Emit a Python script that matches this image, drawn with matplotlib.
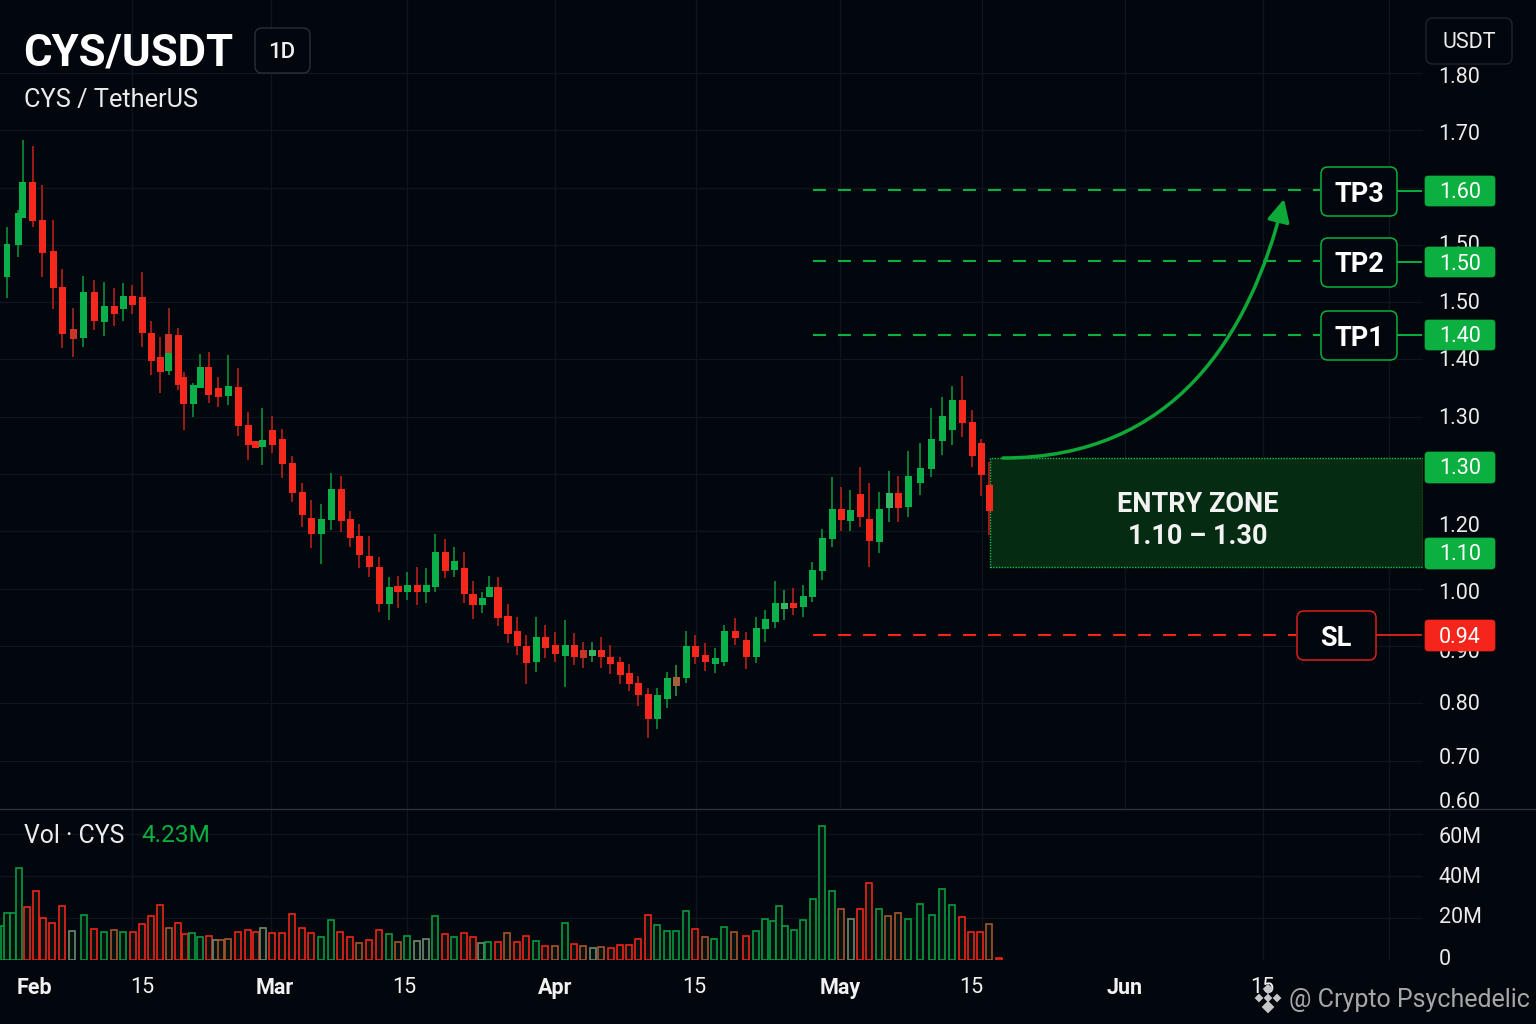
import matplotlib
matplotlib.use("Agg")
import matplotlib.pyplot as plt
from matplotlib.patches import FancyBboxPatch, FancyArrowPatch, Rectangle
from matplotlib.path import Path

plt.rcParams["font.family"] = ["Roboto", "DejaVu Sans"]

# Candles: x in chart days, one day = 10 px on this canvas
candle_days = [
    0.7, 1.8, 2.3, 3.3, 4.2, 5.3, 6.2, 7.3, 8.3, 9.4,
    10.4, 11.4, 12.3, 13.2, 14.2, 15.1, 16.0, 16.9, 16.9, 17.8,
    18.4, 19.3, 20.0, 20.9, 21.8, 22.8, 23.8, 24.8, 25.5, 26.2,
    27.2, 28.2, 29.2, 30.2, 31.1, 32.1, 33.1, 34.1, 35.0, 35.9,
    36.9, 37.9, 38.9, 39.8, 40.7, 41.7, 42.6, 43.5, 44.5, 45.4,
    46.4, 47.3, 48.2, 48.9, 49.8, 50.8, 51.7, 52.6, 53.6, 54.5,
    55.5, 56.5, 57.4, 58.3, 59.2, 60.1, 61.0, 62.0, 62.9, 63.8,
    64.8, 65.7, 66.7, 67.6, 68.6, 69.5, 70.5, 71.5, 72.4, 73.5,
    74.6, 75.6, 76.5, 77.5, 78.4, 79.3, 80.3, 81.2, 82.2, 83.2,
    84.1, 85.0, 86.0, 86.9, 87.9, 88.9, 89.8, 90.8, 92.0, 93.1,
    94.2, 95.2, 96.2, 97.2, 98.1, 98.9,
]
opens = [
    1.444, 1.500, 1.547, 1.610, 1.543, 1.489, 1.427, 1.353, 1.338, 1.418,
    1.365, 1.393, 1.388, 1.411, 1.409, 1.346, 1.304, 1.345, 1.280, 1.343,
    1.270, 1.222, 1.250, 1.287, 1.250, 1.236, 1.252, 1.186, 1.158, 1.147,
    1.177, 1.161, 1.120, 1.069, 1.023, 0.995, 1.020, 1.074, 1.022, 0.992,
    0.957, 0.938, 0.873, 0.905, 0.894, 0.907, 0.894, 0.903, 0.964, 0.933,
    0.936, 0.891, 0.872, 0.886, 0.903, 0.852, 0.826, 0.800, 0.772, 0.816,
    0.802, 0.783, 0.802, 0.793, 0.783, 0.793, 0.781, 0.772, 0.753, 0.736,
    0.716, 0.673, 0.707, 0.730, 0.744, 0.800, 0.784, 0.769, 0.772, 0.826,
    0.811, 0.781, 0.830, 0.842, 0.865, 0.875, 0.868, 0.886, 0.931, 0.987,
    1.039, 1.018, 1.065, 1.022, 0.982, 1.041, 1.067, 1.043, 1.085, 1.109,
    1.158, 1.177, 1.229, 1.191, 1.154, 1.081,
]
closes = [
    1.502, 1.556, 1.610, 1.542, 1.486, 1.425, 1.345, 1.336, 1.418, 1.367,
    1.393, 1.379, 1.411, 1.395, 1.346, 1.297, 1.278, 1.311, 1.311, 1.256,
    1.222, 1.256, 1.287, 1.238, 1.235, 1.254, 1.184, 1.151, 1.146, 1.160,
    1.151, 1.118, 1.067, 1.029, 0.995, 1.022, 1.074, 1.018, 0.989, 0.959,
    0.938, 0.873, 0.903, 0.894, 0.907, 0.894, 0.907, 0.964, 0.931, 0.948,
    0.891, 0.872, 0.884, 0.903, 0.849, 0.821, 0.800, 0.770, 0.816, 0.797,
    0.786, 0.802, 0.781, 0.779, 0.793, 0.781, 0.769, 0.750, 0.734, 0.715,
    0.673, 0.715, 0.744, 0.746, 0.800, 0.781, 0.772, 0.779, 0.826, 0.814,
    0.781, 0.832, 0.847, 0.875, 0.875, 0.866, 0.887, 0.933, 0.989, 1.039,
    1.020, 1.037, 1.025, 0.983, 1.039, 1.067, 1.041, 1.097, 1.111, 1.161,
    1.201, 1.229, 1.189, 1.132, 1.099, 1.036,
]
highs = [
    1.531, 1.561, 1.683, 1.673, 1.605, 1.543, 1.458, 1.390, 1.446, 1.439,
    1.435, 1.425, 1.434, 1.430, 1.453, 1.367, 1.339, 1.390, 1.311, 1.355,
    1.278, 1.259, 1.310, 1.313, 1.270, 1.308, 1.285, 1.208, 1.158, 1.215,
    1.201, 1.179, 1.132, 1.085, 1.055, 1.048, 1.102, 1.097, 1.036, 1.013,
    0.992, 0.955, 0.921, 0.922, 0.929, 0.938, 0.936, 0.996, 0.987, 0.973,
    0.964, 0.914, 0.894, 0.922, 0.921, 0.873, 0.851, 0.819, 0.851, 0.837,
    0.825, 0.845, 0.823, 0.807, 0.807, 0.816, 0.802, 0.781, 0.769, 0.748,
    0.727, 0.727, 0.755, 0.767, 0.826, 0.819, 0.805, 0.797, 0.837, 0.849,
    0.825, 0.851, 0.863, 0.914, 0.898, 0.901, 0.907, 0.947, 1.004, 1.095,
    1.078, 1.072, 1.112, 1.085, 1.069, 1.106, 1.097, 1.140, 1.154, 1.215,
    1.235, 1.254, 1.271, 1.212, 1.161, 1.121,
]
lows = [
    1.407, 1.479, 1.547, 1.531, 1.444, 1.388, 1.320, 1.304, 1.322, 1.352,
    1.341, 1.359, 1.367, 1.379, 1.322, 1.273, 1.242, 1.311, 1.273, 1.247,
    1.177, 1.200, 1.250, 1.224, 1.217, 1.221, 1.167, 1.125, 1.146, 1.116,
    1.137, 1.093, 1.051, 1.008, 0.971, 0.943, 1.003, 0.999, 0.973, 0.936,
    0.921, 0.859, 0.845, 0.866, 0.880, 0.872, 0.875, 0.894, 0.919, 0.921,
    0.875, 0.847, 0.858, 0.886, 0.835, 0.805, 0.784, 0.734, 0.755, 0.779,
    0.772, 0.729, 0.767, 0.762, 0.772, 0.762, 0.751, 0.734, 0.722, 0.695,
    0.640, 0.655, 0.692, 0.713, 0.736, 0.769, 0.756, 0.753, 0.765, 0.802,
    0.760, 0.770, 0.807, 0.832, 0.845, 0.854, 0.851, 0.877, 0.915, 0.973,
    1.001, 1.001, 1.008, 0.938, 0.962, 1.016, 1.016, 1.025, 1.064, 1.095,
    1.133, 1.151, 1.165, 1.113, 1.062, 0.994,
]
# g green, r red, d dull red, l light green, b brownish
candle_kinds = (
    "gggrrrrdgr" "grgrrrrdgr" "rggrrgrrrg" "rrrrrggrrr" "rrgrgrggrg"
    "rrggrrrrgr" "rgrdlrrrrr" "rggbgrrggr" "rggglrgggg" "rgrrglrggg" "ggrrrr"
)

# Volume in millions
vol_days = [
    0.4, 0.7, 1.3, 1.9, 2.7, 3.6, 4.3, 5.2, 6.2, 7.2,
    8.4, 9.4, 10.4, 11.4, 12.3, 13.3, 14.2, 15.1, 16.0, 16.9,
    17.8, 18.5, 19.2, 20.0, 20.9, 21.6, 22.1, 22.8, 23.8, 24.8,
    25.6, 26.3, 27.2, 28.2, 29.2, 30.2, 31.1, 32.1, 33.1, 34.0,
    35.0, 35.9, 36.9, 37.9, 38.9, 39.8, 40.7, 41.7, 42.6, 43.5,
    44.5, 45.4, 46.4, 47.3, 48.1, 48.8, 49.8, 50.7, 51.7, 52.6,
    53.6, 54.5, 55.5, 56.5, 57.4, 58.3, 59.3, 60.1, 61.1, 62.0,
    62.9, 63.8, 64.8, 65.7, 66.7, 67.6, 68.6, 69.5, 70.5, 71.4,
    72.4, 73.4, 74.6, 75.6, 76.5, 77.3, 77.9, 78.5, 79.4, 80.3,
    81.3, 82.2, 83.2, 84.1, 85.1, 86.0, 86.9, 87.9, 88.8, 89.8,
    90.8, 92.0, 93.2, 94.2, 95.2, 96.2, 97.1, 98.0, 98.9, 99.9,
]
vol_values = [
    16.3, 22.5, 22.2, 43.6, 25.2, 33.0, 20.2, 17.8, 25.9, 14.0,
    21.3, 14.8, 13.3, 14.3, 13.3, 13.3, 17.0, 20.8, 26.3, 15.0,
    17.5, 12.4, 12.7, 11.1, 11.3, 9.5, 9.5, 10.0, 13.2, 14.4,
    13.3, 15.0, 12.9, 12.9, 21.7, 15.4, 13.0, 11.1, 19.0, 13.5,
    11.0, 7.9, 9.5, 14.4, 12.2, 8.6, 11.3, 9.2, 9.8, 21.1,
    12.5, 11.0, 12.7, 11.0, 7.9, 8.7, 8.7, 13.0, 8.7, 11.3,
    9.0, 6.8, 6.5, 17.6, 7.6, 6.7, 5.9, 6.3, 5.7, 7.0,
    7.3, 10.2, 21.3, 16.5, 13.8, 13.8, 23.3, 14.8, 11.1, 9.8,
    15.9, 13.3, 11.3, 13.8, 19.5, 18.6, 25.9, 16.3, 14.1, 18.9,
    29.0, 63.7, 32.7, 24.1, 19.4, 24.3, 36.7, 24.3, 20.8, 22.5,
    19.4, 26.5, 21.3, 33.7, 26.3, 20.6, 13.5, 13.2, 17.1, 0.8,
]
# g green, r red, b brownish, y grey-green
vol_kinds = (
    "ggggrrrrry" "grgbgrrrrb" "rrggrybbrr" "ryrrrrrggr" "rbrrgbgyyg"
    "rgrrygrbrr" "grbgrbybrr" "rrrggggrbg" "gbrggggggg" "gggbyrrgbb" "ggggg" "rrrbr"
)

# Axis ticks and levels
price_grid = [1.8, 1.7, 1.6, 1.5, 1.4, 1.3, 1.2, 1.1, 1.0, 0.9, 0.8, 0.7, 0.6]
price_tick_pos = [1.797, 1.697, 1.503, 1.402, 1.303, 1.201, 1.013, 0.896, 0.793, 0.702, 0.608, 0.531]
price_tick_labels = ["1.80", "1.70", "1.50", "1.50", "1.40", "1.30", "1.20", "1.00", "0.90", "0.80", "0.70", "0.60"]
vol_grid = [0, 20, 40, 60]
vol_tick_pos = [1.4, 21.4, 40.5, 59.5]
vol_tick_labels = ["0", "20M", "40M", "60M"]
day_grid = [13.2, 27.1, 40.7, 55.5, 69.6, 84.0, 98.2, 112.5, 126.3, 138.9]
date_tick_pos = [3.4, 14.2, 27.5, 40.4, 55.5, 69.4, 84.0, 97.1, 112.5, 126.2]
date_tick_labels = ["Feb", "15", "Mar", "15", "Apr", "15", "May", "15", "Jun", "15"]
bold_dates = ["Feb", "Mar", "Apr", "May", "Jun"]

tp_prices = [1.596, 1.472, 1.343]
sl_price = 0.819
entry_top = 1.128
entry_bottom = 0.938

BG = "#02060d"
GRID = "#10151d"
GREEN = "#0bb040"
RED = "#f5251b"
TEXT = "#ebebeb"
body_colors = {"g": "#0bb04a", "r": "#f5281e", "d": "#c8352a", "l": "#35b765", "b": "#a3603a"}
wick_colors = {"g": "#0a8f3c", "r": "#b81f18", "d": "#a02a20", "l": "#1d8f4a", "b": "#2f8f4f"}
vol_edges = {"g": "#0a9a40", "r": "#ee2419", "b": "#a8552e", "y": "#6f8a70"}

W, H = 1536, 1024


def draw_candles(ax):
    wicks = [wick_colors[k] for k in candle_kinds]
    ax.vlines(candle_days, lows, highs, colors=wicks, linewidth=1.2, zorder=3)
    bottoms = [min(o, c) for o, c in zip(opens, closes)]
    heights = [abs(o - c) for o, c in zip(opens, closes)]
    ax.bar(candle_days, heights, bottom=bottoms, width=0.7,
           color=[body_colors[k] for k in candle_kinds], linewidth=0, zorder=4)


def draw_volume(ax):
    edges = [vol_edges[k] for k in vol_kinds]
    ax.bar(vol_days, vol_values, width=0.62, facecolor="#05120f", edgecolor=edges,
           linewidth=1.2, zorder=3)


def rbox(ui, x, y, w, h, edge, face=BG, lw=1.2, rad=7):
    ui.add_patch(FancyBboxPatch((x, y), w, h, boxstyle=f"round,pad=0,rounding_size={rad}",
                                facecolor=face, edgecolor=edge, linewidth=lw, zorder=6))


def draw_overlay(ui):
    ui.set_xlim(0, W)
    ui.set_ylim(H, 0)
    ui.axis("off")

    ui.text(23, 53, "CYS/USDT", color="#ffffff", fontsize=31.5, fontweight="bold", va="center")
    rbox(ui, 255, 28, 55, 45, "#2b3038", lw=1.0)
    ui.text(282, 53, "1D", color="#f0f0f0", fontsize=16, fontweight="medium", ha="center", va="center", zorder=7)
    ui.text(24, 100, "CYS / TetherUS", color=TEXT, fontsize=18.3, va="center")
    rbox(ui, 1426, 18, 86, 46, "#1f232a", lw=1.0)
    ui.text(1469, 43, "USDT", color=TEXT, fontsize=15.5, ha="center", va="center", zorder=7)

    ui.plot([0, W], [809, 809], color="#2c3038", linewidth=1)

    # Take profit and stop boxes with their price badges
    tags = [("TP3", 1321, 167, "1.60", 191), ("TP2", 1321, 238, "1.50", 262), ("TP1", 1321, 311, "1.40", 335)]
    for name, bx, by, price, py in tags:
        ui.plot([bx + 76, 1421], [py, py], color=GREEN, linewidth=1.4, zorder=5)
        rbox(ui, bx, by, 76, 49, GREEN, lw=1.1)
        ui.text(bx + 38, by + 27, name, color="#ffffff", fontsize=19.5, fontweight="bold", ha="center", va="center", zorder=7)
        rbox(ui, 1425, py - 15, 70, 30, GREEN, face=GREEN, lw=0.5, rad=3)
        ui.text(1460, py + 2, price, color="#ffffff", fontsize=15.5, ha="center", va="center", zorder=7)

    ui.plot([1376, 1421], [635, 635], color="#d8201a", linewidth=1.4, zorder=5)
    rbox(ui, 1297, 611, 79, 49, "#d8201a", lw=1.1)
    ui.text(1336, 638, "SL", color="#ffffff", fontsize=19.5, fontweight="bold", ha="center", va="center", zorder=7)
    rbox(ui, 1425, 620, 70, 31, RED, face=RED, lw=0.5, rad=3)
    ui.text(1460, 637.5, "0.94", color="#ffffff", fontsize=15.5, ha="center", va="center", zorder=7)

    for price, py in [("1.30", 467), ("1.10", 553)]:
        rbox(ui, 1425, py - 15, 70, 31, GREEN, face=GREEN, lw=0.5, rad=3)
        ui.text(1460, py + 2, price, color="#ffffff", fontsize=15.5, ha="center", va="center", zorder=7)

    ui.text(1198, 504, "ENTRY ZONE", color="#f2f2f2", fontsize=19.5, fontweight="bold", ha="center", va="center", zorder=7)
    ui.text(1198, 537, "1.10 – 1.30", color="#f2f2f2", fontsize=19.5, fontweight="bold", ha="center", va="center", zorder=7)

    curve = Path([(1003, 458), (1175, 458), (1250, 335), (1284, 199)],
                 [Path.MOVETO, Path.CURVE4, Path.CURVE4, Path.CURVE4])
    ui.add_patch(FancyArrowPatch(path=curve, arrowstyle="-|>", mutation_scale=34, color="#0ea838",
                                 linewidth=2.5, shrinkA=0, shrinkB=0, zorder=6))

    ui.text(24, 836, "Vol · CYS", color=TEXT, fontsize=17.8, va="center")
    ui.text(141, 836, "4.23M", color=GREEN, fontsize=17.6, va="center")

    # Watermark
    ui.text(1289, 1000, "@ Crypto Psychedelic", color="#a6a6a6", fontsize=18, va="center", zorder=7)
    ui.scatter([1268, 1259, 1277, 1268, 1268], [989, 998, 998, 998, 1007],
               marker="D", s=[28, 20, 20, 20, 42], color="#c6c6c6", linewidths=0, zorder=7)


def main():
    fig = plt.figure(figsize=(W / 100, H / 100), dpi=100, facecolor=BG)

    ax = fig.add_axes([0, 1 - 809 / H, 1423 / W, 809 / H], facecolor=BG)
    vol = fig.add_axes([0, 1 - 960 / H, 1423 / W, 151 / H], facecolor=BG)
    ui = fig.add_axes([0, 0, 1, 1], zorder=5)
    ui.patch.set_visible(False)

    for a in (ax, vol):
        a.set_xlim(0, 142.3)
        for spine in a.spines.values():
            spine.set_visible(False)
        a.set_xticks(day_grid, minor=True)
        a.grid(which="minor", color=GRID, linewidth=1, zorder=0)
        a.tick_params(which="both", length=0)

    ax.set_ylim(0.5155, 1.9274)
    ax.set_yticks(price_grid, minor=True)
    ax.set_xticks([])
    ax.yaxis.tick_right()
    ax.set_yticks(price_tick_pos, price_tick_labels)
    ax.tick_params(axis="y", which="major", pad=11.2, labelcolor=TEXT, labelsize=15.5)

    vol.set_ylim(0, 71.9)
    vol.set_yticks(vol_grid, minor=True)
    vol.yaxis.tick_right()
    vol.set_yticks(vol_tick_pos, vol_tick_labels)
    vol.tick_params(axis="y", which="major", pad=11.2, labelcolor=TEXT, labelsize=15.5)
    vol.set_xticks(date_tick_pos, date_tick_labels)
    vol.tick_params(axis="x", which="major", pad=12.5, labelcolor="#f2f2f2", labelsize=15.5)
    for lab in vol.get_xticklabels():
        if lab.get_text() in bold_dates:
            lab.set_fontweight("bold")

    draw_candles(ax)
    draw_volume(vol)

    # Levels and the entry zone
    ax.hlines(tp_prices, 81.3, 132, colors=GREEN, linewidth=1.5,
              linestyles=(0, (6.2, 5.8)), zorder=2)
    ax.hlines(sl_price, 81.3, 129.6, colors=RED, linewidth=1.5,
              linestyles=(0, (6.2, 5.8)), zorder=2)
    ax.add_patch(Rectangle((99.0, entry_bottom), 43.3, entry_top - entry_bottom,
                           facecolor="#052c12", edgecolor="#17c24a", linewidth=1,
                           linestyle=(0, (1, 1)), zorder=2))

    draw_overlay(ui)
    fig.savefig("out.png", dpi=100, facecolor=BG)
    plt.close(fig)


if __name__ == "__main__":
    main()
